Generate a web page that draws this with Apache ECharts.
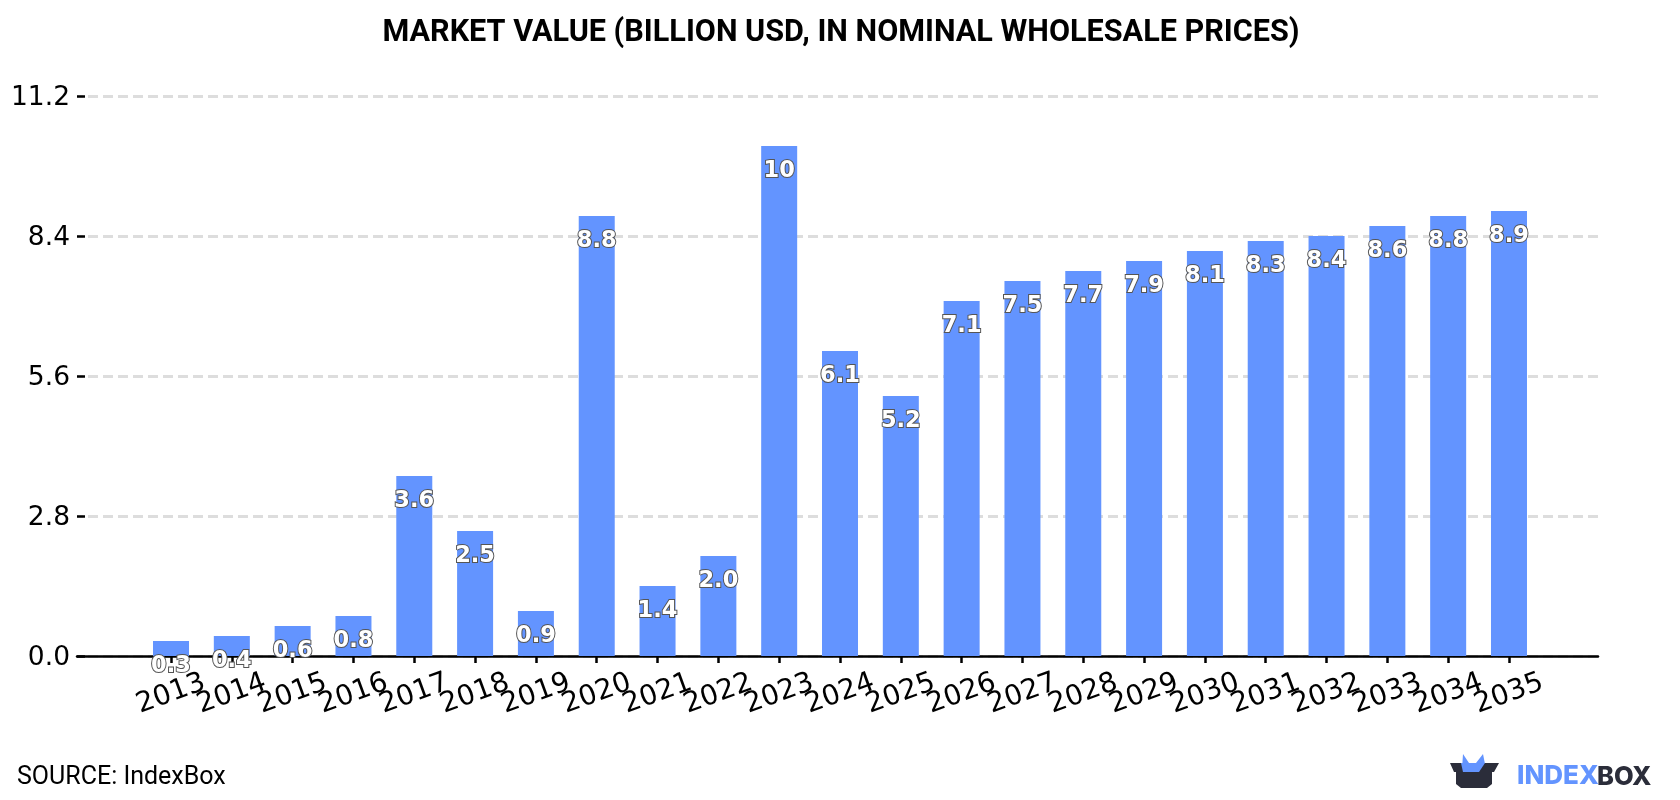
<!DOCTYPE html>
<html>
<head>
<meta charset="utf-8">
<style>html,body{margin:0;padding:0;background:#fff}#chart{width:1680px;height:800px}</style>
<script src="https://cdn.jsdelivr.net/npm/echarts@6/dist/echarts.min.js"></script>
</head>
<body>
<div id="chart"></div>
<script>
const titleText = 'MARKET VALUE (BILLION USD, IN NOMINAL WHOLESALE PRICES)';
const sourceText = 'SOURCE: IndexBox';
const years = ['2013','2014','2015','2016','2017','2018','2019','2020','2021','2022','2023','2024','2025','2026','2027','2028','2029','2030','2031','2032','2033','2034','2035'];
const marketValue = [0.3,0.4,0.6,0.8,3.6,2.5,0.9,8.8,1.4,2.0,10.2,6.1,5.2,7.1,7.5,7.7,7.9,8.1,8.3,8.4,8.6,8.8,8.9];
const yTicks = [0, 2.8, 5.6, 8.4, 11.2];

const BLUE = '#6394ff';
const INK = '#2b2d3a';
const chart = echarts.init(document.getElementById('chart'));

// Value labels keep two significant figures at most
const valueLabel = v => v >= 10 ? String(Math.round(v)) : v.toFixed(1);

chart.setOption({
  animation: false,
  backgroundColor: '#fff',
  title: {
    text: titleText, left: 836, top: 13, textAlign: 'center',
    textStyle: { fontFamily: 'Roboto', fontWeight: 'bold', fontSize: 30.6, color: '#000' }
  },
  grid: [
    // Frame: full-width gridlines and baseline
    { left: 77, right: 82, top: 96, height: 560 },
    // Bars sit in a narrower band inside the frame
    { left: 140.6, width: 1398.8, top: 96, height: 560 }
  ],
  xAxis: [
    { gridIndex: 0, type: 'value', min: 0, max: 1, axisLabel: { show: false }, axisTick: { show: false },
      splitLine: { show: false }, axisLine: { show: true, onZero: false, lineStyle: { color: '#000', width: 2.5 } } },
    { gridIndex: 1, type: 'category', data: years, axisLine: { show: false },
      axisTick: { show: true, alignWithLabel: true, length: 7, lineStyle: { color: '#000', width: 2.5 } },
      axisLabel: { interval: 0, rotate: 20, align: 'center', verticalAlign: 'middle', margin: 38,
        fontFamily: 'DejaVu Sans', fontSize: 28, color: '#000' } }
  ],
  yAxis: [
    { gridIndex: 0, type: 'value', min: 0, max: 11.2, interval: 2.8,
      axisLine: { show: false },
      axisTick: { show: true, inside: true, length: 8, lineStyle: { color: '#000', width: 2.5 } },
      axisLabel: { margin: 7, fontFamily: 'DejaVu Sans', fontSize: 26.5, color: '#000',
        verticalAlign: 'top', lineHeight: 4,
        formatter: v => yTicks.includes(+v.toFixed(1)) ? v.toFixed(1) : '' },
      splitLine: { show: true, lineStyle: { color: '#dddddd', width: 3, type: [10, 5], dashOffset: 4 } } },
    { gridIndex: 1, type: 'value', min: 0, max: 11.2, interval: 2.8, show: false }
  ],
  series: [{
    type: 'bar',
    xAxisIndex: 1, yAxisIndex: 1,
    data: marketValue,
    barWidth: 36,
    itemStyle: { color: BLUE },
    clip: false,
    z: 3,
    label: {
      show: true, position: 'insideTop', distance: 14,
      formatter: p => valueLabel(p.value),
      fontFamily: 'DejaVu Sans', fontWeight: 'bold', fontSize: 22.5,
      color: '#fff', textBorderColor: '#555', textBorderWidth: 2
    }
  }],
  graphic: [
    { type: 'text', left: 17, top: 765, style: { text: sourceText, font: '25px Roboto', fill: '#000' } },
    // Brand mark: open box with blue contents
    { type: 'polygon', shape: { points: [[1462,769],[1463,754],[1469,763],[1476,763],[1483,754],[1486,769],[1476,773],[1470,773]] }, style: { fill: BLUE } },
    { type: 'polygon', shape: { points: [[1450,763],[1499,763],[1494,772],[1492,772],[1492,784],[1487,788],[1461,788],[1456,784],[1456,772],[1454,772]] }, style: { fill: INK } },
    { type: 'polygon', shape: { points: [[1461,763],[1485,763],[1479,772],[1463,772]] }, style: { fill: BLUE } },
    { type: 'text', left: 1517, top: 763, style: { text: 'INDEX', font: '800 26px Inter', fill: BLUE } },
    { type: 'text', left: 1597, top: 764, style: { text: 'BOX', font: '800 25.5px Inter', fill: INK } }
  ]
});
</script>
</body>
</html>
